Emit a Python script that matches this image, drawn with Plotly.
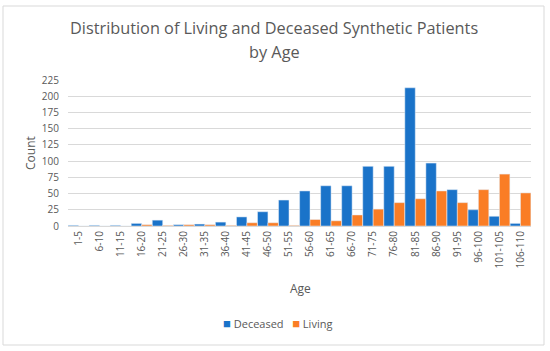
import plotly.graph_objects as go

categories = ["1-5", "6-10", "11-15", "16-20", "21-25", "26-30", "31-35", "36-40",
              "41-45", "46-50", "51-55", "56-60", "61-65", "66-70", "71-75", "76-80",
              "81-85", "86-90", "91-95", "96-100", "101-105", "106-110"]
deceased = [1, 1, 1, 4, 9, 2, 3, 6, 14, 22, 40, 54, 62, 62, 92, 92, 213, 97, 56, 25, 15, 4]
living = [0, 0, 0, 2, 1, 2, 2, 1, 5, 5, 1, 10, 8, 17, 26, 36, 42, 54, 36, 56, 80, 51]
y_ticks = [0, 25, 50, 75, 100, 125, 150, 175, 200, 225]
title_lines = ["Distribution of Living and Deceased Synthetic Patients", "by Age"]

FONT = "Open Sans"
GRAY = "#595959"
BLUE = "#1A73C9"
ORANGE = "#FA7D25"
W, H = 550, 351
L, R, T, B = 68, 19, 80, 125
PW, PH = W - L - R, H - T - B


def px(x):
    return (x - L) / PW


def py(y):
    return (H - B - y) / PH


fig = go.Figure()
fig.add_trace(go.Bar(name="Deceased", x=categories, y=deceased, marker_color=BLUE))
fig.add_trace(go.Bar(name="Living", x=categories, y=living, marker_color=ORANGE))

legend_text = (f"<span style='color:{BLUE};font-size:13px'>■</span> Deceased"
               f"&nbsp;&nbsp;&nbsp;<span style='color:{ORANGE};font-size:13px'>■</span> Living")

annotations = [
    dict(text=title_lines[0], xref="paper", yref="paper", x=px(274), y=py(28),
         showarrow=False, font=dict(size=16.3, color=GRAY), xanchor="center", yanchor="middle"),
    dict(text=title_lines[1], xref="paper", yref="paper", x=px(274), y=py(52),
         showarrow=False, font=dict(size=16.3, color=GRAY), xanchor="center", yanchor="middle"),
    dict(text="Age", xref="paper", yref="paper", x=px(300), y=py(288),
         showarrow=False, font=dict(size=12, color=GRAY), xanchor="center", yanchor="middle"),
    dict(text="Count", xref="paper", yref="paper", x=px(30), y=py(153),
         showarrow=False, textangle=-90, font=dict(size=12, color=GRAY),
         xanchor="center", yanchor="middle"),
    dict(text=legend_text, xref="paper", yref="paper", x=px(277), y=py(323),
         showarrow=False, font=dict(size=11, color=GRAY), xanchor="center", yanchor="middle"),
]

fig.update_layout(
    width=W, height=H,
    margin=dict(l=L, r=R, t=T, b=B, autoexpand=False),
    paper_bgcolor="white", plot_bgcolor="white",
    barmode="group", bargap=0.01, bargroupgap=0,
    font=dict(family=FONT, color=GRAY, size=10),
    showlegend=False,
    xaxis=dict(type="category", tickangle=-90, showgrid=False, showline=True,
               linecolor="#d9d9d9", linewidth=1, ticks="", tickfont=dict(size=10, color=GRAY)),
    yaxis=dict(range=[0, 225], tickvals=y_ticks, showgrid=True, gridcolor="#d9d9d9",
               gridwidth=1, zeroline=False, showline=False, ticks="",
               ticklabelstandoff=8, tickfont=dict(size=10, color=GRAY)),
    annotations=annotations,
    shapes=[dict(type="rect", xref="paper", yref="paper",
                 x0=px(3), x1=px(544), y0=py(345), y1=py(6),
                 line=dict(color="#d9d9d9", width=1), fillcolor="rgba(0,0,0,0)", layer="below")],
)

fig.write_html("out.html", config={"displayModeBar": False},
               post_script="document.body.style.margin='0';")
